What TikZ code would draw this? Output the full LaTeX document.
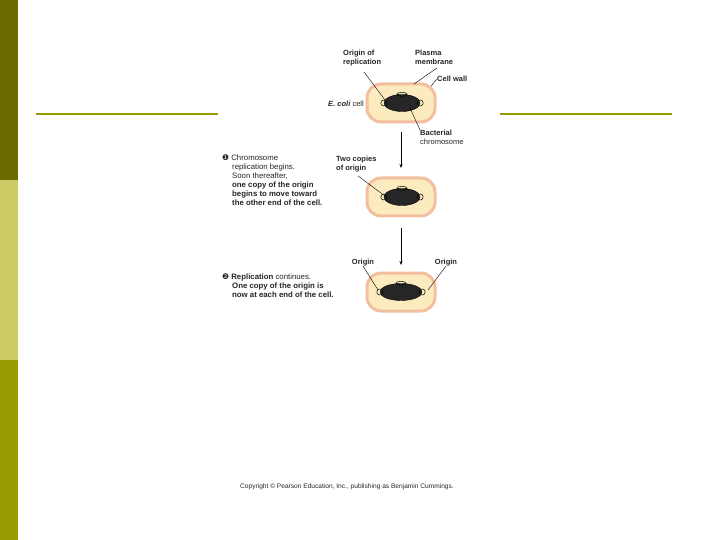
\documentclass[tikz,border=0pt]{standalone}
\usepackage{fontspec}
\setmainfont{Liberation Sans}
\newfontfamily\djv{DejaVu Sans}
\usetikzlibrary{arrows.meta,shapes.geometric}
\definecolor{olA}{HTML}{6B6B00}
\definecolor{olB}{HTML}{CCCC66}
\definecolor{olC}{HTML}{999900}
\definecolor{wall}{HTML}{F2BFA0}
\definecolor{cyto}{HTML}{FDEBC0}
\tikzset{
 lbl/.style={font=\fontsize{7.5}{8.5}\selectfont\bfseries, align=left, inner sep=0pt, text=black!85},
 cellw/.style={draw=wall, line width=3pt, fill=cyto, rounded corners=14pt},
 chrom/.style={fill=black!85, draw=black},
 ptr/.style={draw=black, line width=0.4pt},
 flow/.style={draw=black, line width=0.6pt, -{Stealth[length=4pt,width=3pt]}}
}
\begin{document}
\begin{tikzpicture}[x=1pt,y=-1pt]
\useasboundingbox (0,0) rectangle (720,540);
\fill[white] (0,0) rectangle (720,540);
\fill[olA] (0,0) rectangle (18,180);
\fill[olB] (0,180) rectangle (18,360);
\fill[olC] (0,360) rectangle (18,540);
\coordinate (l1) at (36,114); \coordinate (l2) at (218,114);
\coordinate (r1) at (500,114); \coordinate (r2) at (672,114);
\draw[olC, line width=2pt] (l1) -- (l2);
\draw[olC, line width=2pt] (r1) -- (r2);
% cells
\foreach \n/\y in {c1/103,c2/197,c3/292}{
  \node[cellw, minimum width=68pt, minimum height=38pt] (\n) at (401,\y) {};
}
% chromosomes
\node[chrom, ellipse, minimum width=36pt, minimum height=17pt, inner sep=0pt] (k1) at (402,103) {};
\node[chrom, ellipse, minimum width=36pt, minimum height=17pt, inner sep=0pt] (k2) at (402,197) {};
\node[chrom, ellipse, minimum width=42pt, minimum height=17pt, inner sep=0pt] (k3) at (401,292) {};
\foreach \k in {k1,k2,k3}{
  \draw[black, line width=0.5pt] (\k.west) circle (3pt);
  \draw[black, line width=0.5pt] (\k.east) circle (3pt);
  \draw[black, line width=0.5pt] (\k.north) ellipse (5pt and 2pt);
}
% arrows
\coordinate (a1) at (401,132); \coordinate (a2) at (401,168);
\coordinate (a3) at (401,228); \coordinate (a4) at (401,265);
\draw[flow] (a1) -- (a2);
\draw[flow] (a3) -- (a4);
% labels
\node[lbl, anchor=north west] (ori) at (343,50) {Origin of\\replication};
\node[lbl, anchor=north west] (pm) at (415,50) {Plasma\\membrane};
\node[lbl, anchor=west] (cw) at (437,79) {Cell wall};
\node[lbl, anchor=east] (ec) at (364,104) {\textit{E. coli} \mdseries cell};
\node[lbl, anchor=north west] (bc) at (420,130) {Bacterial\\\mdseries chromosome};
\node[lbl, anchor=north west] (two) at (336,156) {Two copies\\of origin};
\node[lbl, anchor=south] (o1) at (363,266) {Origin};
\node[lbl, anchor=south] (o2) at (446,266) {Origin};
\node[lbl, anchor=north west, font=\fontsize{7.8}{9}\selectfont] (s1) at (222,155)
 {{\djv\char"2776} Chromosome\\\hspace*{10pt}replication begins.\\\hspace*{10pt}Soon thereafter,\\\hspace*{10pt}\textbf{one copy of the origin}\\\hspace*{10pt}\textbf{begins to move toward}\\\hspace*{10pt}\textbf{the other end of the cell.}};
\node[lbl, anchor=north west, font=\fontsize{7.8}{9}\selectfont] (s2) at (222,274)
 {{\djv\char"2777} \textbf{Replication} continues.\\\hspace*{10pt}\textbf{One copy of the origin is}\\\hspace*{10pt}\textbf{now at each end of the cell.}};
\node[lbl, anchor=center, font=\fontsize{6.6}{7}\selectfont\mdseries] (cp) at (347,487)
 {Copyright © Pearson Education, Inc., publishing as Benjamin Cummings.};
% pointers
\coordinate (p1) at (385,100); \draw[ptr] (364,72) -- (p1);
\coordinate (p2) at (414,84); \draw[ptr] (437,68) -- (p2);
\coordinate (p3) at (431,86); \draw[ptr] (cw.west) -- (p3);
\coordinate (p4) at (410,108); \draw[ptr] (bc.north west) -- (p4);
\coordinate (p5) at (385,196); \draw[ptr] (358,176) -- (p5);
\coordinate (p6) at (378,290); \draw[ptr] (o1.south) -- (p6);
\coordinate (p7) at (428,290); \draw[ptr] (o2.south) -- (p7);
\end{tikzpicture}
\end{document}
